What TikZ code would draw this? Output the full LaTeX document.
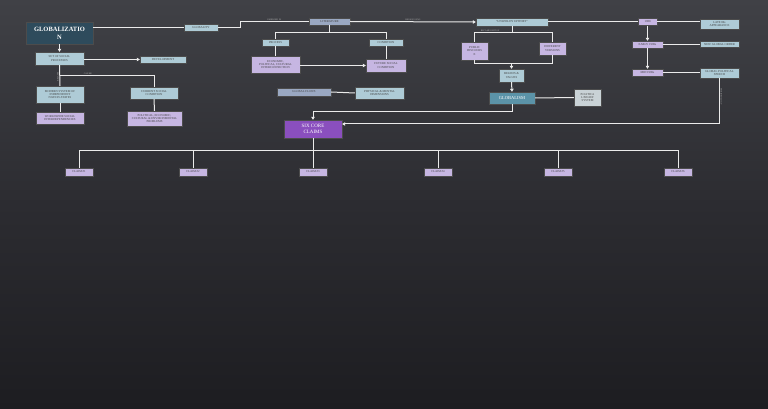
\documentclass[tikz,border=0pt]{standalone}
\usepackage{fontspec}
\setmainfont{Liberation Serif}
\usetikzlibrary{arrows.meta}
\definecolor{lb}{HTML}{AECBD6}
\definecolor{lav}{HTML}{C6B6E2}
\definecolor{gb}{HTML}{9AA8C2}
\definecolor{dteal}{HTML}{2E4B5C}
\definecolor{teal2}{HTML}{5B93A8}
\definecolor{purp}{HTML}{8A4FBE}
\definecolor{lg}{HTML}{C9D2D6}
\definecolor{bgtop}{HTML}{404146}
\definecolor{bgmid}{HTML}{2C2C31}
\definecolor{bgbot}{HTML}{1D1D21}
\tikzset{
 bx/.style={draw=gray!60!black,line width=0.4pt,align=center,inner sep=0.6pt,text=black!75,font=\fontsize{3}{3.4}\selectfont},
 ln/.style={draw=white!92!black,line width=1pt},
 ar/.style={ln,-{Triangle[length=3pt,width=3.5pt]}},
 lab/.style={text=white!70!black,font=\fontsize{2.2}{2.5}\selectfont,inner sep=0.5pt}
}
\newcommand{\bxat}[7]{\node[bx,fill=#5,minimum width=#3pt,minimum height=#4pt,#7] (#1) at #2 {#6};}
\begin{document}
\begin{tikzpicture}[x=1pt,y=-1pt]
\shade[top color=bgtop, bottom color=bgbot, middle color=bgmid] (0,0) rectangle (768,409);
\useasboundingbox (0,0) rectangle (768,409);
% left branch
\bxat{gz}{(59.5,33)}{67}{22}{dteal}{GLOBALIZATIO\\N}{text=white,font=\fontsize{6.5}{8}\selectfont\bfseries}
\bxat{gy}{(201,27.5)}{34}{7}{lb}{GLOBALITY}{}
\bxat{sp}{(59.5,58.5)}{49}{13}{lb}{SET OF SOCIAL\\PROCESSES}{}
\bxat{dv}{(163,59.5)}{46}{7}{lb}{DEVELOPMENT}{}
\bxat{ms}{(60,94.5)}{48}{17}{lb}{MODERN SYSTEM OF\\INDEPENDENT\\NATION-STATES}{}
\bxat{cs}{(154,93)}{48}{12}{lb}{CURRENT SOCIAL\\CONDITION}{}
\bxat{wi}{(60,118)}{48}{12}{lav}{WORLDWIDE SOCIAL\\INTERDEPENDENCIES}{}
\bxat{pp}{(154.5,118.5)}{55}{15}{lav}{POLITICAL, ECONOMIC,\\CULTURAL \& ENVIRONMENTAL\\PROBLEMS}{}
% literature
\bxat{lit}{(329.5,21.5)}{41}{7}{gb}{LITERATURE}{}
\bxat{pr}{(275.5,42.5)}{27}{7}{lb}{PROCESS}{}
\bxat{co}{(386,42.5)}{34}{7}{lb}{CONDITION}{}
\bxat{ec}{(275.5,64.5)}{49}{17}{lav}{ECONOMIC,\\POLITICAL, CULTURAL\\INTERCONNECTION}{}
\bxat{fs}{(386,65.5)}{40}{13}{lav}{FUTURE SOCIAL\\CONDITION}{}
\bxat{gf}{(304,92)}{54}{8}{gb}{GLOBAL FLOWS}{}
\bxat{pm}{(379.5,93)}{49}{12}{lb}{PHYSICAL \& MENTAL\\DIMENSIONS}{}
% epithet
\bxat{ue}{(512,22)}{72}{8}{lb}{"UNWIELDY EPITHET"}{}
\bxat{pd}{(474.5,51)}{27}{18}{lav}{PUBLIC\\DISCOURS\\E}{}
\bxat{dvr}{(552.5,48.5)}{27}{13}{lav}{DIFFERENT\\VERSIONS}{}
\bxat{bv}{(511.5,75.5)}{25}{13}{lb}{BELIEFS \&\\VALUES}{}
\bxat{gm}{(512,98)}{46}{12}{teal2}{GLOBALISM}{text=white,font=\fontsize{4.5}{5}\selectfont}
\bxat{pb}{(587.5,97.5)}{27}{17}{lg}{POLITICA\\L BELIEF\\SYSTEM}{}
% timeline
\bxat{t1}{(647.5,22)}{19}{7}{lav}{1980}{}
\bxat{la}{(719.5,24)}{39}{10}{lb}{LATE 80s\\APPEARANCE}{}
\bxat{t2}{(647.5,44.5)}{31}{7}{lav}{EARLY 1990s}{}
\bxat{ng}{(719.5,44.5)}{39}{6}{lb}{NEW GLOBAL ORDER}{}
\bxat{t3}{(647.5,72.5)}{31}{7}{lav}{MID 1990s}{}
\bxat{gp}{(719.5,73)}{39}{10}{lb}{GLOBAL POLITICAL\\SPEECH}{}
% claims
\bxat{sc}{(313,129)}{58}{18}{purp}{SIX CORE\\CLAIMS}{text=white,font=\fontsize{5}{6}\selectfont}
\bxat{c1}{(79,172)}{28}{8}{lav}{CLAIM \#1}{}
\bxat{c2}{(193,172)}{28}{8}{lav}{CLAIM \#2}{}
\bxat{c3}{(313,172)}{28}{8}{lav}{CLAIM \#3}{}
\bxat{c4}{(438,172)}{28}{8}{lav}{CLAIM \#4}{}
\bxat{c5}{(558,172)}{28}{8}{lav}{CLAIM \#5}{}
\bxat{c6}{(678,172)}{28}{8}{lav}{CLAIM \#6}{}
% connectors left
\draw[ln] (gz.east|-0,27.5) -- (gy.west);
\draw[ln] (gy.east) -- (240,27.5) -- (240,21.5) -- (lit.west) node[lab,pos=0.5,above]{EMERGED IN};
\draw[ar] (gz.south) -- (sp.north);
\draw[ar] (sp.east|-dv) -- (dv.west);
\draw[ln] (sp.south) -- node[lab,rotate=90,left=1pt,anchor=south]{RELATES} (ms.north);
\draw[ln] (59.5,76) -- (cs.north|-0,76) node[lab,pos=0.3,above]{CAN BE} -- (cs.north);
\draw[ln] (ms.south) -- (wi.north);
\draw[ln] (cs.south) -- (pp.north);
% literature
\draw[ar] (lit.east) -- node[lab,above]{BEGAN USING} (ue.west);
\draw[ln] (lit.south) -- (329.5,33);
\draw[ln] (pr.north) -- (275.5,33) -- (386,33) -- (co.north);
\draw[ln] (pr.south) -- (ec.north);
\draw[ln] (co.south) -- (fs.north);
\draw[ar] (ec.east|-fs) -- (fs.west);
\draw[ln] (gf.east) -- (pm.west);
% epithet
\draw[ln] (ue.east) -- (t1.west);
\draw[ln] (ue.south) -- (512,33);
\draw[ln] (pd.north) -- (474.5,33) -- node[lab,pos=0.2,above]{BECAME PART OF} (552.5,33) -- (dvr.north);
\draw[ln] (pd.south) -- (474.5,64) -- (552.5,64) -- (dvr.south);
\draw[ar] (511.5,64) -- (bv.north);
\draw[ar] (bv.south) -- (gm.north);
\draw[ln] (gm.east) -- (pb.west);
\draw[ln] (gm.south) -- (512,112) -- (313,112);
\draw[ar] (313,112) -- (sc.north);
% timeline
\draw[ln] (t1.east) -- (la.west|-t1);
\draw[ar] (t1.south) -- (t2.north);
\draw[ar] (t2.south) -- (t3.north);
\draw[ln] (t2.east) -- (ng.west);
\draw[ln] (t3.east) -- (gp.west|-t3);
\draw[ar] (gp.south) -- node[lab,rotate=-90,anchor=south,pos=0.4]{THE IDEOLOGY} (719.5,124) -- (sc.east|-0,124);
% claims
\draw[ln] (sc.south) -- (313,150);
\draw[ln] (c1.north) -- (79,150) -- (678,150) -- (c6.north);
\foreach \c in {c2,c3,c4,c5} \draw[ln] (\c.north) -- (\c.north|-0,150);
\end{tikzpicture}
\end{document}
